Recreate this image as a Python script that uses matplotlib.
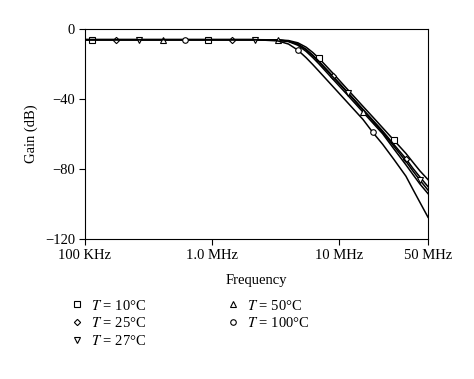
import matplotlib
matplotlib.use("Agg")
import matplotlib.pyplot as plt
from matplotlib.lines import Line2D

plt.rcParams["font.family"] = ["Liberation Serif", "DejaVu Serif"]
plt.rcParams["mathtext.fontset"] = "stix"

# frequency grid (MHz)
freq_mhz = [0.1, 0.1135, 0.175, 0.266, 0.411, 0.612, 0.928, 1.43, 2.18, 3.30,
            4.0, 4.74, 5.5, 6.2, 6.93, 8.94, 11.7, 15.4, 18.4, 22.0, 27.0,
            33.5, 38.0, 43.2, 50.0]

flat = [-6.0] * 9
gain_10 = flat + [-6.1, -6.5, -7.8, -10.3, -13.3, -16.6, -25.2, -34.6, -44.1,
                  -50.2, -56.4, -63.5, -71.0, -76.0, -81.0, -86.0]
gain_25 = flat + [-6.2, -6.8, -8.5, -11.5, -14.8, -18.3, -26.9, -36.2, -45.8,
                  -52.0, -58.2, -66.0, -74.0, -79.5, -84.5, -90.0]
gain_27 = flat + [-6.2, -6.9, -8.7, -11.8, -15.2, -18.7, -27.3, -36.5, -46.3,
                  -52.6, -59.0, -67.0, -75.5, -81.0, -86.3, -92.0]
gain_50 = flat + [-6.3, -7.1, -9.2, -12.7, -16.2, -19.8, -28.6, -37.8, -47.4,
                  -53.6, -59.8, -68.5, -77.5, -83.0, -88.5, -94.0]
gain_100 = flat + [-6.7, -8.5, -12.0, -16.3, -20.2, -24.0, -32.8, -42.1, -51.6,
                   -59.0, -65.8, -74.5, -84.0, -91.5, -99.0, -107.5]

series = [
    (r"$T$ = 10°C", gain_10, "s", [1, 6, 14, 20]),
    (r"$T$ = 25°C", gain_25, "D", [2, 7, 15, 21]),
    (r"$T$ = 27°C", gain_27, "v", [3, 8, 16, 23]),
    (r"$T$ = 50°C", gain_50, "^", [4, 9, 17]),
    (r"$T$ = 100°C", gain_100, "o", [5, 11, 18]),
]

xticks = [0.1, 1.0, 10.0, 50.0]
xticklabels = ["100 KHz", "1.0 MHz", "10 MHz", "50 MHz"]
yticks = [0, -40, -80, -120]

fig = plt.figure(figsize=(4.74, 3.79), dpi=100)
ax = fig.add_axes([0.179, 0.369, 0.724, 0.554])

handles = []
for label, gain, marker, idx in series:
    ms = 3.2 if marker == "D" else 4
    ax.plot(freq_mhz, gain, color="black", lw=1.1, marker=marker, markevery=idx,
            ms=ms, mfc="white", mec="black", mew=0.8)
    handles.append(Line2D([], [], ls="none", marker=marker, ms=ms, mfc="white",
                          mec="black", mew=0.8, label=label))

ax.set_xscale("log")
ax.set_xlim(0.1, 50)
ax.set_ylim(-120, 0)
ax.set_xticks(xticks)
ax.set_xticklabels(xticklabels)
ax.minorticks_off()
ax.set_yticks(yticks)
ax.set_yticklabels(["0", "\u221240", "\u221280", "\u2212120"])
ax.tick_params(direction="out", length=4, width=0.8, labelsize=10.5, pad=3)
for s in ax.spines.values():
    s.set_linewidth(0.8)

ax.set_xlabel("Frequency", fontsize=10.5, labelpad=9)
ax.set_ylabel("Gain (dB)", fontsize=10.5, labelpad=5)

fig.legend(handles=handles, ncol=2, loc="upper left", bbox_to_anchor=(0.122, 0.247),
           frameon=False, fontsize=10.5, handlelength=0.8, handletextpad=0.6,
           columnspacing=5.5, labelspacing=0.25)

fig.savefig("out.png", dpi=100, facecolor="white")
